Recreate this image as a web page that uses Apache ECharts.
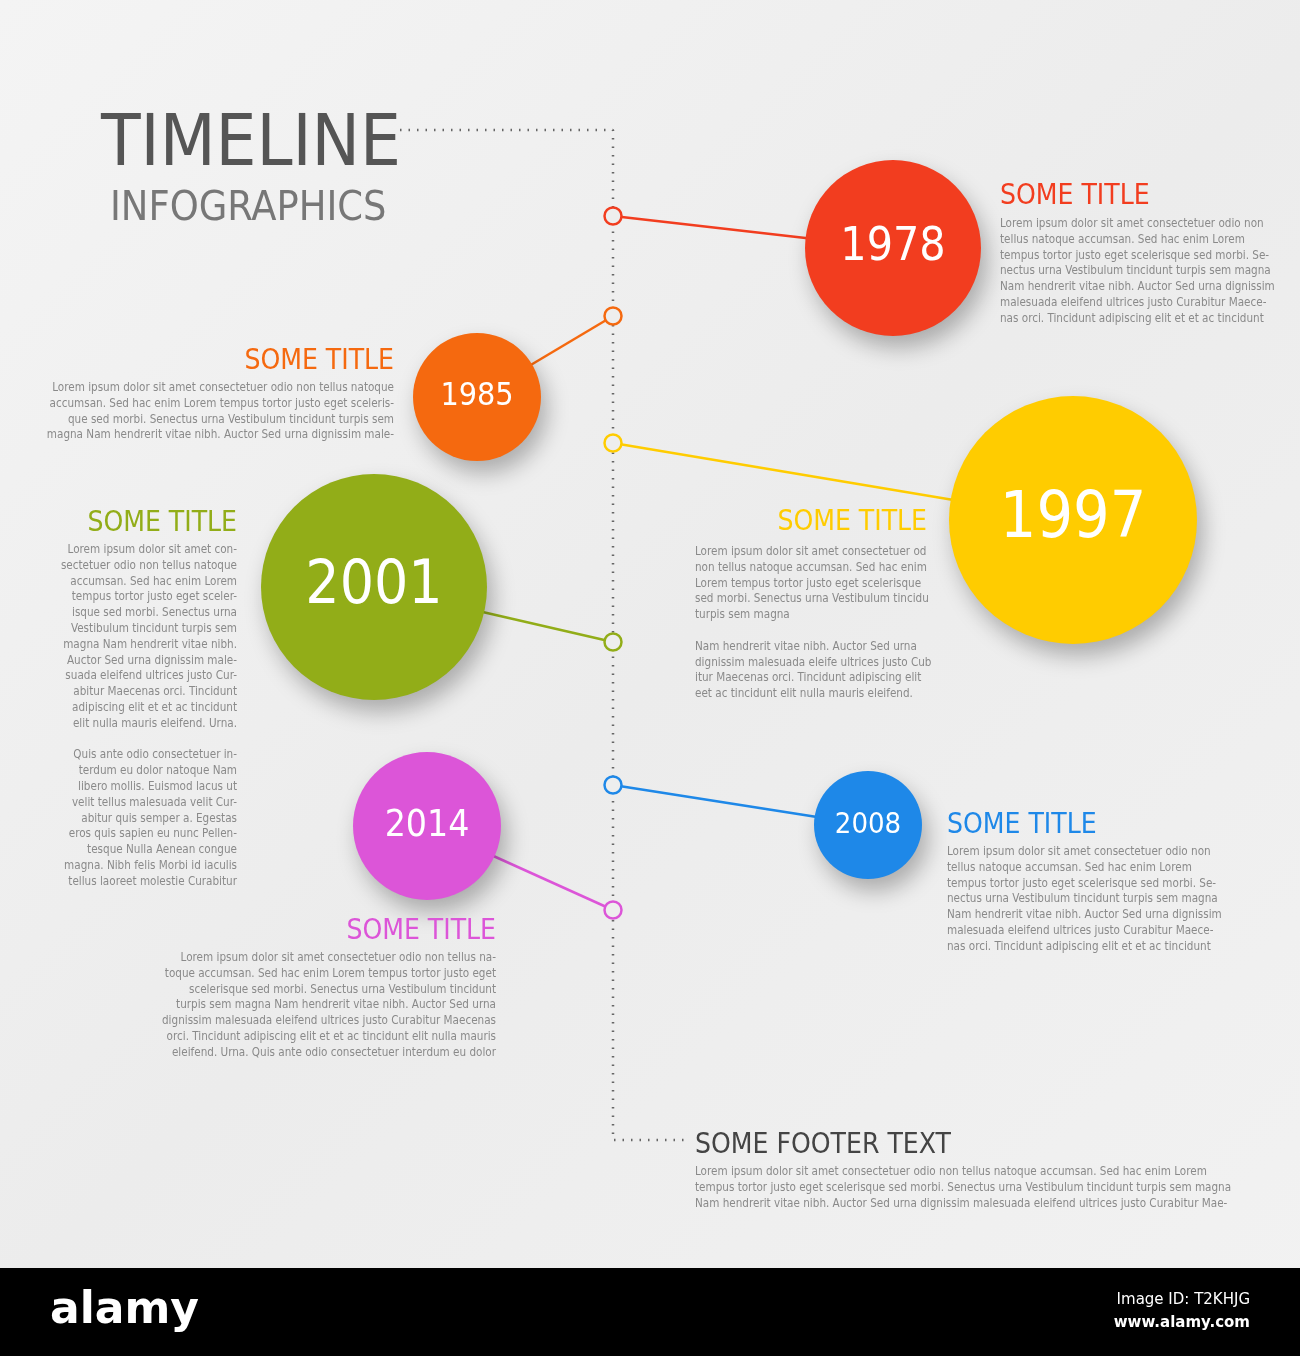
<!DOCTYPE html>
<html><head><meta charset="utf-8">
<script src="https://cdn.jsdelivr.net/npm/echarts@6/dist/echarts.min.js"></script>
<style>html,body{margin:0;padding:0;background:#eee}#c{width:1300px;height:1356px}</style>
</head><body><div id="c"></div>
<script>
const years = ['1978','1985','1997','2001','2008','2014'];
const colors = ['#f23d1f','#f5690f','#ffcc00','#92ad18','#1e88e8','#dc55d8'];
const radii = [88,64,124,113,54,74];
const circleX = [893,477,1073,374,868,427];
const circleY = [248,397,520,587,825,826];
const yearFont = [46,32,64,60,29,37];
const dotX = 613;
const dotY = [216,316,443,642,785,910];
const titles = ['SOME TITLE','SOME TITLE','SOME TITLE','SOME TITLE','SOME TITLE','SOME TITLE'];
const titleX = [1000,394,927,237,947,496];
const titleY = [196,361,522,523,825,931];
const titleAlign = ['left','right','right','right','left','right'];
const paraX = [1000,394,695,237,947,496];
const paraY = [216,380,544,542,844,950];
const paraAlign = ['left','right','left','right','left','right'];
const paras = [
'Lorem ipsum dolor sit amet consectetuer odio non\ntellus natoque accumsan. Sed hac enim Lorem\ntempus tortor justo eget scelerisque sed morbi. Se-\nnectus urna Vestibulum tincidunt turpis sem magna\nNam hendrerit vitae nibh. Auctor Sed urna dignissim\nmalesuada eleifend ultrices justo Curabitur Maece-\nnas orci. Tincidunt adipiscing elit et et ac tincidunt',
'Lorem ipsum dolor sit amet consectetuer odio non tellus natoque\naccumsan. Sed hac enim Lorem tempus tortor justo eget sceleris-\nque sed morbi. Senectus urna Vestibulum tincidunt turpis sem\nmagna Nam hendrerit vitae nibh. Auctor Sed urna dignissim male-',
'Lorem ipsum dolor sit amet consectetuer od\nnon tellus natoque accumsan. Sed hac enim\nLorem tempus tortor justo eget scelerisque\nsed morbi. Senectus urna Vestibulum tincidu\nturpis sem magna\n\nNam hendrerit vitae nibh. Auctor Sed urna\ndignissim malesuada eleife ultrices justo Cub\nitur Maecenas orci. Tincidunt adipiscing elit\neet ac tincidunt elit nulla mauris eleifend.',
'Lorem ipsum dolor sit amet con-\nsectetuer odio non tellus natoque\naccumsan. Sed hac enim Lorem\ntempus tortor justo eget sceler-\nisque sed morbi. Senectus urna\nVestibulum tincidunt turpis sem\nmagna Nam hendrerit vitae nibh.\nAuctor Sed urna dignissim male-\nsuada eleifend ultrices justo Cur-\nabitur Maecenas orci. Tincidunt\nadipiscing elit et et ac tincidunt\nelit nulla mauris eleifend. Urna.\n\nQuis ante odio consectetuer in-\nterdum eu dolor natoque Nam\nlibero mollis. Euismod lacus ut\nvelit tellus malesuada velit Cur-\nabitur quis semper a. Egestas\neros quis sapien eu nunc Pellen-\ntesque Nulla Aenean congue\nmagna. Nibh felis Morbi id iaculis\ntellus laoreet molestie Curabitur',
'Lorem ipsum dolor sit amet consectetuer odio non\ntellus natoque accumsan. Sed hac enim Lorem\ntempus tortor justo eget scelerisque sed morbi. Se-\nnectus urna Vestibulum tincidunt turpis sem magna\nNam hendrerit vitae nibh. Auctor Sed urna dignissim\nmalesuada eleifend ultrices justo Curabitur Maece-\nnas orci. Tincidunt adipiscing elit et et ac tincidunt',
'Lorem ipsum dolor sit amet consectetuer odio non tellus na-\ntoque accumsan. Sed hac enim Lorem tempus tortor justo eget\nscelerisque sed morbi. Senectus urna Vestibulum tincidunt\nturpis sem magna Nam hendrerit vitae nibh. Auctor Sed urna\ndignissim malesuada eleifend ultrices justo Curabitur Maecenas\norci. Tincidunt adipiscing elit et et ac tincidunt elit nulla mauris\neleifend. Urna. Quis ante odio consectetuer interdum eu dolor'
];
const timelinePath = [[400,130],[613,130],[613,1140],[690,1140]];
const footerTitle = 'SOME FOOTER TEXT';
const footerPos = [695,1145];
const footerText = 'Lorem ipsum dolor sit amet consectetuer odio non tellus natoque accumsan. Sed hac enim Lorem\ntempus tortor justo eget scelerisque sed morbi. Senectus urna Vestibulum tincidunt turpis sem magna\nNam hendrerit vitae nibh. Auctor Sed urna dignissim malesuada eleifend ultrices justo Curabitur Mae-';
const headTitle = [['TIMELINE',101,182,72,'#555'],['INFOGRAPHICS',110,230,41,'#777']];

const COND = "'Liberation Sans Narrow','DejaVu Sans Condensed','Roboto Condensed',sans-serif";
const chart = echarts.init(document.getElementById('c'));
const textPt = (x,y,text,align,vAlign,size,color,weight,lh)=>({value:[x,y],label:{show:true,position:'inside',formatter:text,align:align,verticalAlign:vAlign,fontSize:size,color:color,fontFamily:COND,fontWeight:weight||'normal',lineHeight:lh||size*1.2}});
const textData = [];
headTitle.forEach(h=>textData.push(textPt(h[1],h[2],h[0],'left','bottom',h[3],h[4],'lighter',h[3])));
years.forEach((y,i)=>{
  textData.push(textPt(titleX[i],titleY[i]+15,titles[i],titleAlign[i],'bottom',28,colors[i],'normal',28));
  textData.push(textPt(paraX[i],paraY[i],paras[i],paraAlign[i],'top',11.6,'#8a8a8a','normal',15.8));
});
textData.push(textPt(footerPos[0],footerPos[1]+15,footerTitle,'left','bottom',28,'#444','normal',28));
textData.push(textPt(footerPos[0],footerPos[1]+19,footerText,'left','top',11.6,'#8a8a8a','normal',15.8));

chart.setOption({
  backgroundColor:{type:'linear',x:0,y:0,x2:1,y2:1,colorStops:[{offset:0,color:'#f4f4f4'},{offset:0.5,color:'#ececec'},{offset:1,color:'#f2f2f2'}]},
  animation:false,
  grid:{left:0,right:0,top:0,bottom:0},
  xAxis:{type:'value',min:0,max:1300,show:false},
  yAxis:{type:'value',min:0,max:1356,inverse:true,show:false},
  graphic:[
    {type:'rect',shape:{x:0,y:1268,width:1300,height:88},style:{fill:'#000'},z:100},
    {type:'text',x:50,y:1290,style:{text:'alamy',fill:'#fff',font:"bold 44px 'DejaVu Sans'"},z:101},
    {type:'text',x:1250,y:1293,style:{text:'Image ID: T2KHJG',fill:'#fff',font:"15px 'DejaVu Sans'",textAlign:'right'},z:101},
    {type:'text',x:1250,y:1316,style:{text:'www.alamy.com',fill:'#fff',font:"bold 15px 'DejaVu Sans'",textAlign:'right'},z:101}
  ],
  series:[
    {type:'line',data:timelinePath,symbol:'none',lineStyle:{color:'#666',width:2.5,type:[1.5,7]},z:1},
    {type:'lines',coordinateSystem:'cartesian2d',z:2,
     data:years.map((y,i)=>({coords:[[dotX,dotY[i]],[circleX[i],circleY[i]]],lineStyle:{color:colors[i],width:2.5,opacity:1}}))},
    {type:'scatter',z:3,data:years.map((y,i)=>({value:[dotX,dotY[i]],itemStyle:{color:'#eeeeee',borderColor:colors[i],borderWidth:2.5,opacity:1}})),symbolSize:17},
    {type:'scatter',z:4,data:years.map((y,i)=>({value:[circleX[i],circleY[i]],symbolSize:radii[i]*2,
      itemStyle:{color:colors[i],opacity:1,shadowBlur:22,shadowColor:'rgba(0,0,0,0.28)',shadowOffsetX:6,shadowOffsetY:12},
      label:{show:true,position:'inside',formatter:y,color:'#fff',fontSize:yearFont[i],fontFamily:"'DejaVu Sans Condensed',sans-serif"}}))},
    {type:'scatter',z:5,symbolSize:0,itemStyle:{opacity:1},data:textData,silent:true}
  ]
});
</script></body></html>
